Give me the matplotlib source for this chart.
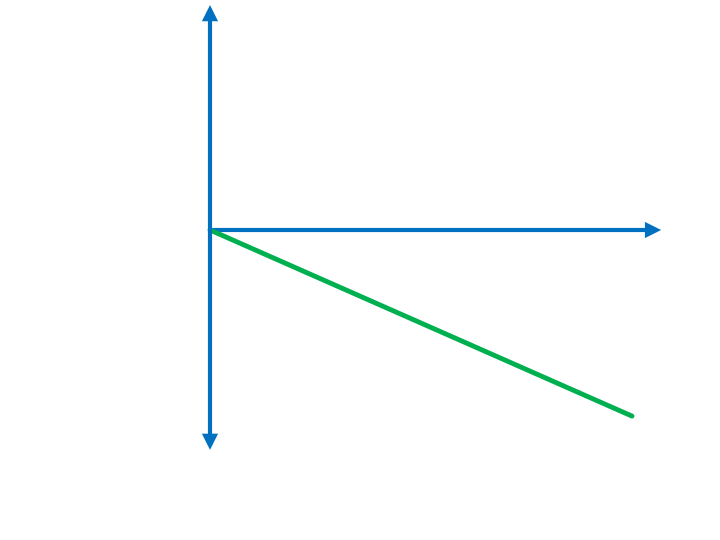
import matplotlib
matplotlib.use("Agg")
import matplotlib.pyplot as plt

# Data (in chart units)
x_axis_start = [0.0, 0.0]
x_axis_end = [10.69, 0.0]
y_axis_top = [0.0, 5.33]
y_axis_bottom = [0.0, -5.21]
line_x = [0.0, 10.0]
line_y = [0.0, -4.41]

blue = "#0070C0"
green = "#00B050"

fig = plt.figure(figsize=(7.2, 5.4), dpi=100)
ax = fig.add_axes([0, 0, 1, 1])
ax.set_xlim(-4.976, 12.085)
ax.set_ylim(-7.346, 5.450)
ax.axis("off")

def arrow(start, end, style, z):
    ax.annotate("", xy=tuple(end), xytext=tuple(start),
                arrowprops=dict(arrowstyle=style, color=blue, lw=3,
                                mutation_scale=17, shrinkA=0, shrinkB=0,
                                joinstyle="miter", capstyle="butt"),
                zorder=z)

# horizontal axis
arrow(x_axis_start, x_axis_end, "-|>", 2)
# green line
ax.plot(line_x, line_y, color=green, lw=3.5, solid_capstyle="round", zorder=3)
# vertical axis
arrow(y_axis_bottom, y_axis_top, "<|-|>", 4)

fig.savefig("out.png", dpi=100)
